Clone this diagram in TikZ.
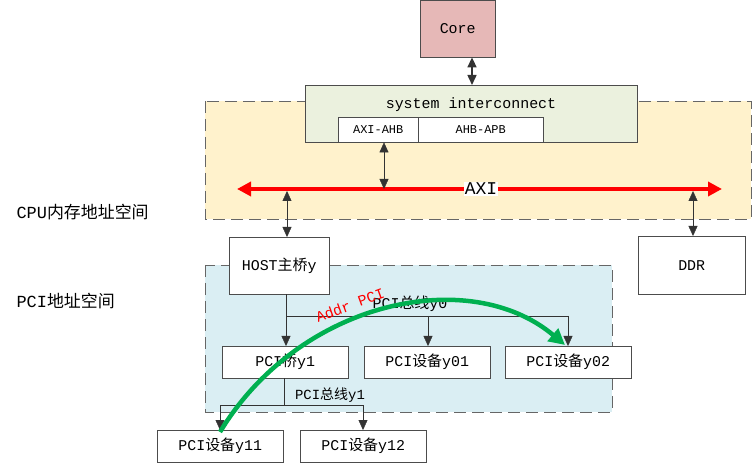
\documentclass[tikz,border=0pt]{standalone}
\usepackage{fontspec}
\setmainfont{Liberation Mono}
\newfontfamily\cjk{Noto Sans CJK SC}
\usetikzlibrary{arrows.meta}
\definecolor{coreFill}{HTML}{E6B8B7}
\definecolor{sysFill}{HTML}{EBF1DE}
\definecolor{cpuFill}{HTML}{FFF2CC}
\definecolor{pciFill}{HTML}{DAEEF3}
\definecolor{arcGreen}{HTML}{00B050}
\begin{document}
\begin{tikzpicture}[x=1bp,y=-1bp,
  every node/.style={font=\fontsize{15}{17}\selectfont},
  box/.style={draw=black!70, fill=white, inner sep=0pt, anchor=north west},
  region/.style={draw=black!60, thick, dash pattern=on 12bp off 6bp},
  link/.style={-{Triangle[width=9bp,length=10bp]}, black!80},
  dlink/.style={{Triangle[width=9bp,length=10bp]}-{Triangle[width=9bp,length=10bp]}, black!80}]
\useasboundingbox (0,0) rectangle (753,465);

% regions
\fill[cpuFill] (205,101) rectangle (751,219);
\draw[region] (205,101) rectangle (751,219);
\fill[pciFill] (205,265) rectangle (612,412);
\draw[region] (205,265) rectangle (612,412);
\node[anchor=west, font=\fontsize{17}{19}\selectfont] (cpulbl) at (13,212) {CPU{\cjk 内存地址空间}};
\node[anchor=west, font=\fontsize{17}{19}\selectfont] (pcilbl) at (13,301) {PCI{\cjk 地址空间}};

% top blocks
\node[box, fill=coreFill, minimum width=75bp, minimum height=57bp] (core) at (420,0) {Core};
\node[box, fill=sysFill, minimum width=332bp, minimum height=57bp] (sys) at (305,85) {};
\node[anchor=center] (systxt) at (471,105) {system interconnect};
\node[box, minimum width=80bp, minimum height=25bp, font=\fontsize{12}{14}\selectfont] (axiahb) at (338,117) {AXI-AHB};
\node[box, minimum width=125bp, minimum height=25bp, font=\fontsize{12}{14}\selectfont] (ahbapb) at (418,117) {AHB-APB};
\draw[dlink, line width=1.5bp] (core.south -| 472,0) -- (sys.north -| 472,0);

% AXI bus
\coordinate (axil) at (237,189);
\coordinate (axir) at (722,189);
\draw[red, line width=3.5bp, {Triangle[width=14bp,length=14bp]}-{Triangle[width=14bp,length=14bp]}] (axil) -- (axir);
\node[fill=white, inner sep=1bp, font=\fontsize{18}{20}\selectfont] (axi) at (481,189) {AXI};
\coordinate (axib) at (384,189);
\draw[dlink] (axiahb.south -| axib) -- (axib);

% lower blocks
\node[box, minimum width=100bp, minimum height=57bp] (host) at (229,237) {HOST{\cjk 主桥}y};
\node[box, minimum width=107bp, minimum height=58bp] (ddr) at (638,236) {DDR};
\draw[dlink] (287,191) coordinate (hb) -- (host.north -| hb);
\draw[dlink] (693,191) coordinate (db) -- (ddr.north -| db);

\node[box, minimum width=126bp, minimum height=32bp] (bridge) at (222,346) {PCI{\cjk 桥}y1};
\node[box, minimum width=126bp, minimum height=32bp] (dev01) at (364,346) {PCI{\cjk 设备}y01};
\node[box, minimum width=126bp, minimum height=32bp] (dev02) at (505,346) {PCI{\cjk 设备}y02};
\node[box, minimum width=126bp, minimum height=32bp] (dev11) at (157,430) {PCI{\cjk 设备}y11};
\node[box, minimum width=126bp, minimum height=32bp] (dev12) at (300,430) {PCI{\cjk 设备}y12};

% bus y0
\coordinate (b0) at (286,316);
\draw[black!80] (host.south -| b0) -- (b0) -- (568,316);
\draw[link] (b0) -- (bridge.north -| b0);
\draw[link] (428,316) -- (dev01.north -| 428,0);
\draw[link] (568,316) -- (dev02.north -| 568,0);
\node[anchor=center] (bus0) at (410,304) {PCI{\cjk 总线}y0};

% bus y1
\coordinate (b1) at (284,405);
\draw[black!80] (bridge.south -| b1) -- (b1);
\draw[black!80] (220,405) -- (363,405);
\draw[link] (220,405) -- (dev11.north -| 220,0);
\draw[link] (363,405) -- (dev12.north -| 363,0);
\node[anchor=center, font=\fontsize{14}{16}\selectfont] (bus1) at (330,395) {PCI{\cjk 总线}y1};

% address arc
\coordinate (arcs) at (220,432);
\coordinate (arce) at (565,345);
\draw[arcGreen, line width=4.5bp, -{Triangle[width=16bp,length=16bp]}] (arcs) .. controls (300,300) and (470,265) .. (arce);
\node[red, rotate=20, anchor=center] (addr) at (350,305) {Addr PCI};
\end{tikzpicture}
\end{document}
